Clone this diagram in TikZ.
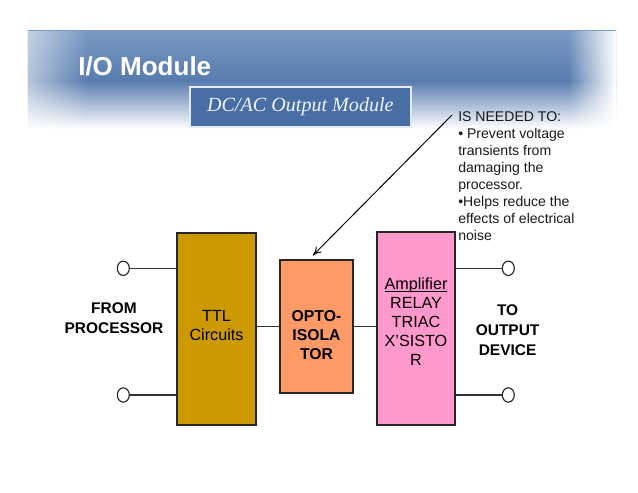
\documentclass[tikz,border=0pt]{standalone}
\usepackage{fontspec}
\setmainfont{Liberation Sans}
\newfontfamily\titleserif{Liberation Serif}
\usetikzlibrary{shapes.geometric, arrows.meta, positioning, fadings}
\definecolor{bannertop}{RGB}{122,152,195}
\definecolor{banner}{RGB}{88,124,174}
\definecolor{subtitle}{RGB}{72,110,164}
\definecolor{ttlfill}{RGB}{204,153,0}
\definecolor{optofill}{RGB}{255,153,102}
\definecolor{relayfill}{RGB}{255,153,204}
\newcommand{\lowline}[1]{\setbox0\hbox{#1}\rlap{\rule[-1.6pt]{\wd0}{0.7pt}}#1}
\tikzset{
  block/.style={rectangle, draw=black!85, line width=0.8pt, inner sep=0pt},
  ttlbox/.style={block, fill=ttlfill, minimum width=1.975cm, minimum height=4.8cm},
  optobox/.style={block, fill=optofill, minimum width=1.825cm, minimum height=3.325cm},
  relaybox/.style={block, fill=relayfill, minimum width=1.95cm, minimum height=4.825cm},
  blocktext/.style={align=center, inner sep=0pt, font=\fontsize{11.5}{13.5}\selectfont},
  terminal/.style={ellipse, draw=black!85, line width=0.8pt, fill=white,
                   minimum width=0.3cm, minimum height=0.36cm, inner sep=0pt},
  wire/.style={draw=black!80, line width=0.8pt},
  sidelabel/.style={font=\fontsize{11}{14.2}\selectfont\bfseries, align=center},
  callout/.style={-{To[length=2.2mm,width=2mm]}, line width=0.7pt},
}

\begin{document}
\begin{tikzpicture}

\useasboundingbox (0,0) rectangle (15.95,12.325);

% ========== Naglowek ==========
\shade[top color=bannertop, bottom color=banner] (0.7,10.3) rectangle (15.4,11.55);
\shade[top color=banner, bottom color=white] (0.7,9.1) rectangle (15.4,10.3);
\fill[white, fill opacity=0.55, path fading=east] (0.7,9.1) rectangle (2.2,11.55);
\fill[white, path fading=west] (14.2,9.1) rectangle (15.4,11.55);
\node[anchor=base west, inner sep=0pt, text=white, font=\fontsize{18.5}{20}\selectfont\bfseries] (title) at (1.95,10.44) {I/O Module};

\node[rectangle, draw=white!85!subtitle, line width=1pt, fill=subtitle, text=white!92!subtitle,
      minimum width=5.525cm, minimum height=1cm, font=\titleserif\itshape\fontsize{14.3}{16}\selectfont]
      (module) at (7.51,9.65) {DC/AC Output Module};

% ========== Bloki ==========
\node[ttlbox]   (ttl)   at (5.4125,4.1)   {};
\node[optobox]  (opto)  at (7.9125,4.1625) {};
\node[relaybox] (relay) at (10.4,4.1125)  {};

\node[blocktext] (ttltext) at ([yshift=0.075cm]ttl.center) {TTL\\Circuits};
\node[blocktext, font=\fontsize{11.2}{13.5}\selectfont\bfseries] (optotext) at ([yshift=-0.225cm]opto.center) {OPTO-\\ISOLA\\TOR};
\node[blocktext, font=\fontsize{11.5}{13.4}\selectfont] (relaytext) at ([yshift=0.175cm]relay.center) {\lowline{Amplifier}\\RELAY\\TRIAC\\X'SISTO\\R};

% ========== Zaciski ==========
\node[terminal] (intop) at (3.083,5.6175) {};
\node[terminal] (inbot) at (3.083,2.45) {};
\node[terminal] (outtop) at (12.708,5.6175) {};
\node[terminal] (outbot) at (12.708,2.45) {};

\node[sidelabel] (from) at (2.85,4.36) {FROM\\PROCESSOR};
\node[sidelabel] (to)   at (12.69,4.08) {TO\\OUTPUT\\DEVICE};

% ========== Polaczenia ==========
\draw[wire] (intop.east) -- (intop.east -| ttl.west);
\draw[wire] (inbot.east) -- (inbot.east -| ttl.west);
\draw[wire] (opto.west -| ttl.east) -- (opto.west);
\draw[wire] (opto.east) -- (opto.east -| relay.west);
\draw[wire] (outtop.west -| relay.east) -- (outtop.west);
\draw[wire] (outbot.west -| relay.east) -- (outbot.west);

% ========== Objasnienie ==========
\node[anchor=north west, inner sep=0pt, align=left, text=black!90,
      font=\fontsize{10}{12.15}\selectfont] (note) at (11.45,9.55)
     {IS NEEDED TO:\\
      • Prevent voltage\\
      transients from\\
      damaging the\\
      processor.\\
      •Helps reduce the\\
      effects of electrical\\
      noise};
\coordinate (notetip) at (11.3,9.45);
\draw[callout] (notetip) -- ([xshift=-0.09cm,yshift=0.1cm]opto.north);

\end{tikzpicture}
\end{document}
